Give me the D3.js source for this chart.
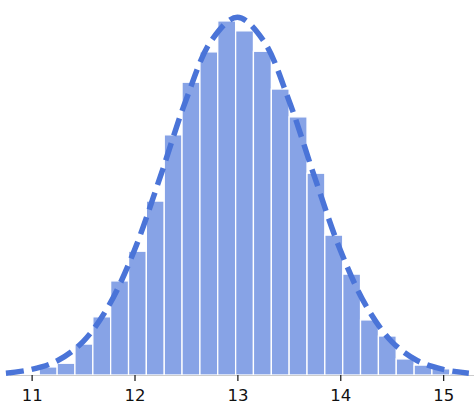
<!DOCTYPE html>
<html>
<head>
<meta charset="utf-8">
<script src="https://cdn.jsdelivr.net/npm/d3@7"></script>
<style>
  html, body { margin: 0; padding: 0; background: #fff; }
  svg { display: block; }
</style>
</head>
<body>
<svg></svg>
<script>
// histogram bins (left edges, last one closes the final bin) and density heights
var binEdges = [11.074, 11.248, 11.421, 11.595, 11.768, 11.942, 12.115, 12.289, 12.462,
  12.636, 12.809, 12.983, 13.156, 13.330, 13.503, 13.677, 13.850, 14.024, 14.197,
  14.371, 14.544, 14.718, 14.891, 15.065, 15.238];
var density = [0.013, 0.019, 0.050, 0.094, 0.152, 0.200, 0.281, 0.388, 0.473, 0.522,
  0.572, 0.556, 0.523, 0.462, 0.417, 0.326, 0.226, 0.163, 0.089, 0.063, 0.026,
  0.016, 0.010, 0.003];

// dashed fitted curve
var curveX = [10.75, 11.0, 11.25, 11.5, 11.75, 12.0, 12.25, 12.5, 12.75, 13.0,
  13.25, 13.5, 13.75, 14.0, 14.25, 14.5, 14.75, 15.0, 15.25];
var curveY = [0.003, 0.009, 0.023, 0.054, 0.112, 0.202, 0.320, 0.444, 0.541, 0.578,
  0.541, 0.444, 0.320, 0.202, 0.112, 0.054, 0.023, 0.009, 0.003];

var tickValues = [11, 12, 13, 14, 15];

var width = 474, height = 405;

var svg = d3.select('svg')
  .attr('width', width)
  .attr('height', height);

var x = d3.scaleLinear().domain([10.78, 15.3]).range([9, 474]);
var y = d3.scaleLinear().domain([0, 0.6]).range([375, 3.6]);

var bins = density.map(function (d, i) {
  return { x0: binEdges[i], x1: binEdges[i + 1], v: d };
});

svg.selectAll('rect.bar')
  .data(bins)
  .enter()
  .append('rect')
  .attr('class', 'bar')
  .attr('x', function (d) { return x(d.x0); })
  .attr('width', function (d) { return x(d.x1) - x(d.x0); })
  .attr('y', function (d) { return y(d.v); })
  .attr('height', function (d) { return y(0) - y(d.v); })
  .style('fill', '#87a3e6')
  .style('stroke', '#fff')
  .style('stroke-width', 1.3);

// x axis
var axis = svg.append('g')
  .attr('transform', 'translate(0,' + y(0) + ')')
  .call(d3.axisBottom(x).tickValues(tickValues).tickSizeInner(6).tickSizeOuter(0)
    .tickPadding(8).tickFormat(d3.format('d')));

axis.select('.domain').attr('stroke', '#cccccc').attr('stroke-width', 1);
axis.selectAll('.tick line').attr('stroke', '#222').attr('stroke-width', 1.3);
axis.selectAll('.tick text')
  .attr('fill', '#111')
  .style('font-family', 'DejaVu Sans, sans-serif')
  .style('font-size', '16.5px');

var pts = curveX.map(function (d, i) { return [d, curveY[i]]; });

var line = d3.line()
  .x(function (d) { return x(d[0]); })
  .y(function (d) { return y(d[1]); })
  .curve(d3.curveCatmullRom);

svg.append('path')
  .datum(pts)
  .attr('d', line)
  .style('fill', 'none')
  .style('stroke', '#4a74d8')
  .style('stroke-width', 5.5)
  .style('stroke-dasharray', '18,8');
</script>
</body>
</html>
